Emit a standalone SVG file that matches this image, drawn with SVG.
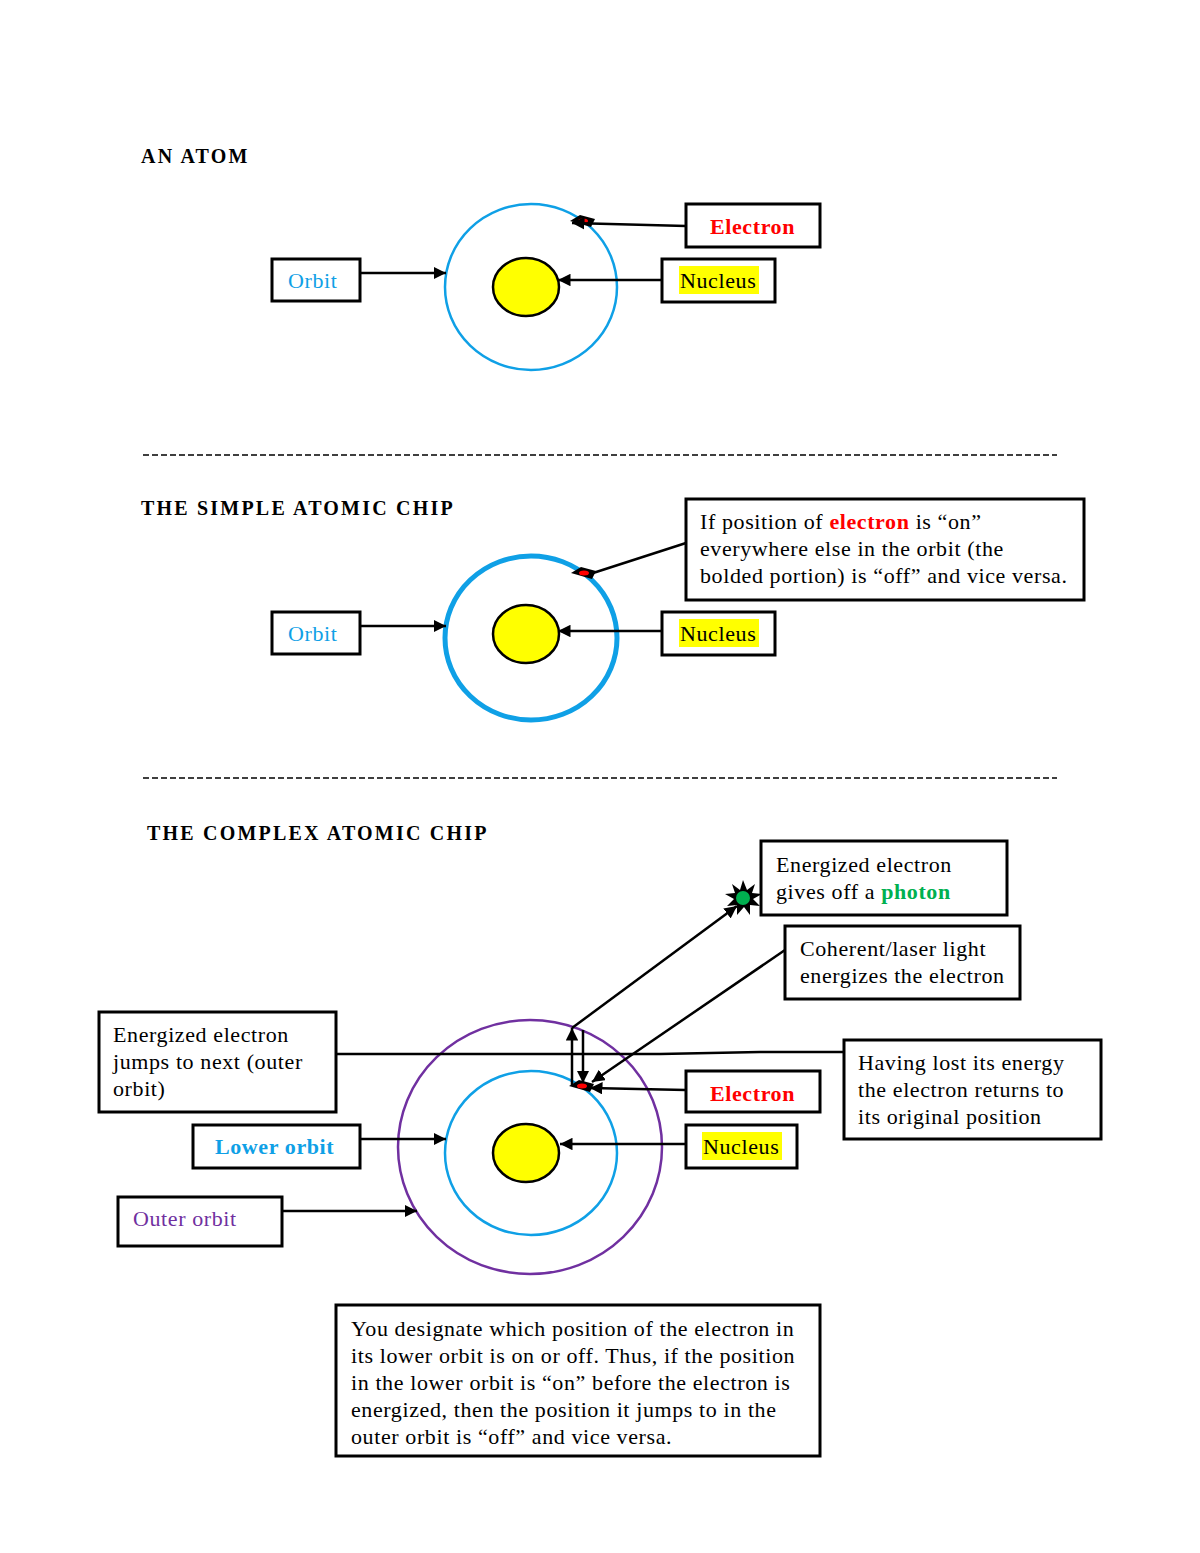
<svg xmlns="http://www.w3.org/2000/svg" width="1200" height="1553" viewBox="0 0 1200 1553">
<defs>
<style>
text{font-family:"Liberation Serif","Times New Roman",serif;font-size:22px;letter-spacing:0.6px;fill:#000}
.h{font-size:20px;font-weight:bold;letter-spacing:2.2px}
.box{fill:#fff;stroke:#000;stroke-width:3}
.c{stroke:#000;stroke-width:2.5;fill:none}
.red{fill:#f00;font-weight:bold}
.blue{fill:#0fa0e6}
.pur{fill:#7030a0}
.grn{fill:#00b050;font-weight:bold}
.nuc{fill:#ff0;stroke:#000;stroke-width:2.5}
.dash{stroke:#000;stroke-width:1.5;stroke-dasharray:6 3}
</style>
<marker id="a" viewBox="0 0 10 10" refX="10" refY="5" markerWidth="5" markerHeight="5" orient="auto-start-reverse"><path d="M0,0L10,5L0,10z" fill="#000"/></marker>
<g id="el"><path d="M-13,0L-3,-6L12,-2L8,6Z" fill="#000"/><ellipse cx="0" cy="0" rx="5" ry="2.5" fill="#f00"/></g>
</defs>
<rect width="1200" height="1553" fill="#fff"/>

<text class="h" x="141" y="163">AN ATOM</text>
<g id="atom1">
<ellipse cx="531" cy="287" rx="86" ry="83" fill="none" stroke="#0fa0e6" stroke-width="2.5"/>
<ellipse class="nuc" cx="526" cy="287" rx="33" ry="29"/>
<use href="#el" x="583" y="221"/>
</g>
<g id="orbit1"><rect class="box" x="272" y="259" width="88" height="42"/><text class="blue" x="288" y="288">Orbit</text></g>
<g id="electron1"><rect class="box" x="686" y="204" width="134" height="43"/><text class="red" x="710" y="234">Electron</text></g>
<g id="nucleus1"><rect class="box" x="662" y="259" width="113" height="43"/><rect x="679" y="266" width="80" height="28" fill="#ff0"/><text x="680" y="288">Nucleus</text></g>

<line class="dash" x1="143" y1="455" x2="1057" y2="455"/>

<text class="h" x="141" y="515">THE SIMPLE ATOMIC CHIP</text>
<g id="atom2">
<ellipse cx="531" cy="638" rx="86" ry="82" fill="none" stroke="#0fa0e6" stroke-width="5"/>
<ellipse class="nuc" cx="526" cy="634" rx="33" ry="29"/>
<use href="#el" x="584" y="573"/>
</g>
<g id="orbit2"><rect class="box" x="272" y="612" width="88" height="42"/><text class="blue" x="288" y="641">Orbit</text></g>
<g id="nucleus2"><rect class="box" x="662" y="612" width="113" height="43"/><rect x="679" y="619" width="80" height="28" fill="#ff0"/><text x="680" y="641">Nucleus</text></g>
<g id="note2"><rect class="box" x="686" y="499" width="398" height="101"/>
<text x="700" y="529">If position of <tspan class="red">electron</tspan> is “on”</text>
<text x="700" y="556">everywhere else in the orbit (the</text>
<text x="700" y="583">bolded portion) is “off” and vice versa.</text></g>

<line class="dash" x1="143" y1="778" x2="1057" y2="778"/>

<text class="h" x="147" y="840">THE COMPLEX ATOMIC CHIP</text>
<g id="atom3">
<ellipse cx="530" cy="1147" rx="132" ry="127" fill="none" stroke="#7030a0" stroke-width="2.5"/>
<ellipse cx="531" cy="1153" rx="86" ry="82" fill="none" stroke="#0fa0e6" stroke-width="2.5"/>
<ellipse class="nuc" cx="526" cy="1153" rx="33" ry="29"/>
<use href="#el" x="582" y="1086"/>
</g>
<g id="photon">
<path d="M743,880L747,890L755,884L752,893L762,894L753,899L760,906L750,905L750,915L744,907L737,915L737,905L727,906L734,899L725,894L735,893L732,884L740,890Z" fill="#000"/>
<circle cx="743" cy="898" r="7" fill="#00b050"/>
</g>
<g id="photonbox"><rect class="box" x="761" y="841" width="246" height="74"/>
<text x="776" y="872">Energized electron</text>
<text x="776" y="899">gives off a <tspan class="grn">photon</tspan></text></g>
<g id="laser"><rect class="box" x="785" y="926" width="235" height="73"/>
<text x="800" y="956">Coherent/laser light</text>
<text x="800" y="983">energizes the electron</text></g>
<g id="jumps"><rect class="box" x="99" y="1012" width="237" height="100"/>
<text x="113" y="1042">Energized electron</text>
<text x="113" y="1069">jumps to next (outer</text>
<text x="113" y="1096">orbit)</text></g>
<g id="returns"><rect class="box" x="844" y="1040" width="257" height="99"/>
<text x="858" y="1070">Having lost its energy</text>
<text x="858" y="1097">the electron returns to</text>
<text x="858" y="1124">its original position</text></g>
<g id="electron3"><rect class="box" x="686" y="1071" width="134" height="41"/><text class="red" x="710" y="1101">Electron</text></g>
<g id="nucleus3"><rect class="box" x="686" y="1125" width="111" height="43"/><rect x="702" y="1132" width="80" height="28" fill="#ff0"/><text x="703" y="1154">Nucleus</text></g>
<g id="lower"><rect class="box" x="193" y="1125" width="167" height="43"/><text class="blue" x="215" y="1154" font-weight="bold">Lower orbit</text></g>
<g id="outer"><rect class="box" x="118" y="1197" width="164" height="49"/><text class="pur" x="133" y="1226">Outer orbit</text></g>
<g id="designate"><rect class="box" x="336" y="1305" width="484" height="151"/>
<text x="351" y="1336">You designate which position of the electron in</text>
<text x="351" y="1363">its lower orbit is on or off.  Thus, if the position</text>
<text x="351" y="1390">in the lower orbit is “on” before the electron is</text>
<text x="351" y="1417">energized, then the position it jumps to in the</text>
<text x="351" y="1444">outer orbit is “off” and vice versa.</text></g>

<g id="connectors">
<line class="c" x1="360" y1="273" x2="446" y2="273" marker-end="url(#a)"/>
<line class="c" x1="686" y1="226" x2="572" y2="223" marker-end="url(#a)"/>
<line class="c" x1="662" y1="280" x2="558" y2="280" marker-end="url(#a)"/>
<line class="c" x1="360" y1="626" x2="446" y2="626" marker-end="url(#a)"/>
<line class="c" x1="686" y1="543" x2="590" y2="574"/>
<line class="c" x1="662" y1="631" x2="558" y2="631" marker-end="url(#a)"/>
<polyline class="c" points="336,1054 660,1054 760,1052 844,1052"/>
<line class="c" x1="572" y1="1085" x2="572" y2="1028" marker-end="url(#a)"/>
<line class="c" x1="572" y1="1028" x2="737" y2="906" marker-end="url(#a)"/>
<line class="c" x1="583" y1="1030" x2="583" y2="1083" marker-end="url(#a)"/>
<line class="c" x1="785" y1="950" x2="592" y2="1082" marker-end="url(#a)"/>
<line class="c" x1="686" y1="1090" x2="590" y2="1088" marker-end="url(#a)"/>
<line class="c" x1="360" y1="1139" x2="446" y2="1139" marker-end="url(#a)"/>
<line class="c" x1="686" y1="1144" x2="560" y2="1144" marker-end="url(#a)"/>
<line class="c" x1="282" y1="1211" x2="417" y2="1211" marker-end="url(#a)"/>
</g>
</svg>
